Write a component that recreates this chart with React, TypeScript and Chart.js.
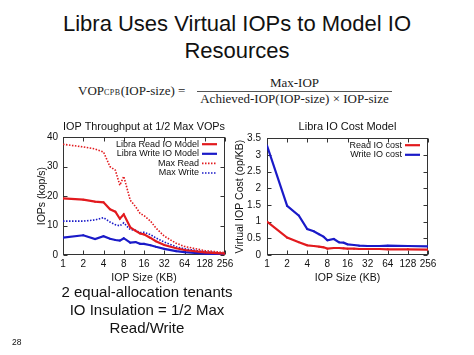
import React, { useEffect, useRef } from "react";
import { Chart, registerables } from "chart.js";

Chart.register(...registerables);

// ---------- data ----------
const ioSizes = [1, 2, 3, 4, 5, 6, 7, 8, 10, 12, 14, 16, 20, 24, 32, 48, 64, 128, 256];
const xTickValues = [1, 2, 4, 8, 16, 32, 64, 128, 256];

const libraRead = [19.2, 18.8, 18.1, 17.9, 15.5, 14.7, 12.3, 13.8, 9.4, 8.2, 7.3, 7.0, 5.8, 4.7, 3.4, 2.3, 1.7, 0.9, 0.45];
const libraWrite = [5.9, 6.7, 5.4, 6.4, 5.5, 5.1, 4.9, 5.7, 4.2, 4.4, 3.8, 3.8, 3.3, 2.8, 2.1, 1.3, 0.95, 0.45, 0.22];
const maxRead = [37.6, 36.7, 36.0, 35.0, 30.0, 28.8, 23.7, 26.7, 18.6, 16.4, 14.1, 13.4, 11.5, 9.2, 6.4, 4.0, 2.9, 1.5, 0.8];
const maxWrite = [11.5, 11.5, 11.9, 12.7, 11.2, 10.3, 9.9, 10.9, 8.6, 8.4, 7.6, 7.7, 6.9, 5.8, 4.4, 2.8, 2.1, 1.1, 0.55];

const readCost = [1.0, 0.52, 0.38, 0.29, 0.27, 0.25, 0.23, 0.19, 0.21, 0.21, 0.2, 0.19, 0.19, 0.18, 0.18, 0.18, 0.17, 0.17, 0.16];
const writeCost = [3.28, 1.47, 1.18, 0.78, 0.71, 0.62, 0.55, 0.44, 0.48, 0.38, 0.37, 0.32, 0.3, 0.28, 0.27, 0.27, 0.28, 0.27, 0.26];

const leftYMax = 40;
const leftYStep = 5;
const rightYMax = 3.5;
const rightYStep = 0.5;

const leftTitle = "IOP Throughput at 1/2 Max VOPs";
const rightTitle = "Libra IO Cost Model";
const xAxisTitle = "IOP Size (KB)";
const leftYTitle = "IOPs (kop/s)";
const rightYTitle = "Virtual IOP Cost (op/KB)";

// ---------- styles ----------
const RED = "rgb(226,26,30)";
const BLUE = "rgb(26,26,200)";
const FONT = "'Liberation Sans', Arial, Helvetica, sans-serif";
const SERIF = "'Liberation Serif', 'Times New Roman', serif";
const INK = "#111";

const pts = (vals: number[]) => ioSizes.map((s, i) => ({ x: s, y: vals[i] }));

const framePlugin = {
  id: "gpFrame",
  beforeDatasetsDraw(chart: any) {
    const { ctx, chartArea: a, scales } = chart;
    ctx.save();
    ctx.strokeStyle = "#333";
    ctx.lineWidth = 1;
    const L = Math.round(a.left) + 0.5;
    const R = Math.round(a.right) - 0.5;
    const T = Math.round(a.top) + 0.5;
    const B = Math.round(a.bottom) - 0.5;
    ctx.strokeRect(L, T, R - L, B - T);
    ctx.beginPath();
    for (const t of scales.x.ticks) {
      const px = Math.round(scales.x.getPixelForValue(t.value)) + 0.5;
      ctx.moveTo(px, B);
      ctx.lineTo(px, B - 4);
      ctx.moveTo(px, T);
      ctx.lineTo(px, T + 4);
    }
    for (const t of scales.y.ticks) {
      const py = Math.round(scales.y.getPixelForValue(t.value)) + 0.5;
      ctx.moveTo(L, py);
      ctx.lineTo(L + 4, py);
      ctx.moveTo(R, py);
      ctx.lineTo(R - 4, py);
    }
    ctx.stroke();
    ctx.restore();
  },
};

const legendPlugin = {
  id: "gpLegend",
  afterDraw(chart: any, _args: any, opts: any) {
    const { ctx, chartArea: a } = chart;
    ctx.save();
    ctx.font = `${opts.fontSize}px ${FONT}`;
    ctx.textAlign = "right";
    ctx.textBaseline = "middle";
    chart.data.datasets.forEach((ds: any, i: number) => {
      const y = a.top + opts.firstRow + i * opts.rowGap;
      ctx.fillStyle = INK;
      ctx.fillText(ds.label, a.right - opts.textGap, y);
      ctx.strokeStyle = ds.borderColor;
      ctx.lineWidth = ds.borderWidth;
      ctx.setLineDash(ds.borderDash || []);
      ctx.beginPath();
      ctx.moveTo(a.right - opts.lineStart, y);
      ctx.lineTo(a.right - opts.lineEnd, y);
      ctx.stroke();
    });
    ctx.restore();
  },
};

function makeConfig(opts: {
  datasets: any[];
  title: string;
  yTitle: string;
  yMax: number;
  yStep: number;
  yWidth: number;
  yTitlePad: number;
  yTickPad: number;
  rightPad: number;
  titlePad: { top: number; bottom: number };
}) {
  return {
    type: "line",
    data: { datasets: opts.datasets },
    plugins: [framePlugin, legendPlugin],
    options: {
      responsive: false,
      animation: false,
      devicePixelRatio: 1,
      layout: { padding: { left: 0, right: opts.rightPad, top: 0, bottom: 0 } },
      plugins: {
        legend: { display: false },
        tooltip: { enabled: false },
        title: {
          display: true,
          text: opts.title,
          color: INK,
          fullSize: false,
          font: { size: 11, family: FONT, weight: "normal", lineHeight: 1.2 },
          padding: opts.titlePad,
        },
        gpLegend: {
          fontSize: 9,
          firstRow: 7,
          rowGap: 9.6,
          textGap: 26,
          lineStart: 23,
          lineEnd: 8,
        },
      },
      scales: {
        x: {
          type: "logarithmic",
          min: 1,
          max: 256,
          grid: { display: false, drawTicks: false },
          border: { display: false },
          afterBuildTicks: (s: any) => {
            s.ticks = xTickValues.map((v) => ({ value: v }));
          },
          afterFit: (s: any) => {
            s.height = 30;
          },
          ticks: {
            color: INK,
            padding: 3,
            maxRotation: 0,
            autoSkip: false,
            font: { size: 10, family: FONT },
            callback: (v: any) => String(v),
          },
          title: {
            display: true,
            text: xAxisTitle,
            color: INK,
            font: { size: 10.5, family: FONT },
            padding: { top: 0, bottom: 1 },
          },
        },
        y: {
          type: "linear",
          min: 0,
          max: opts.yMax,
          grid: { display: false, drawTicks: false },
          border: { display: false },
          afterFit: (s: any) => {
            s.width = opts.yWidth;
          },
          ticks: {
            color: INK,
            stepSize: opts.yStep,
            padding: opts.yTickPad,
            font: { size: 10, family: FONT },
            callback: (v: any) => String(v),
          },
          title: {
            display: true,
            text: opts.yTitle,
            color: INK,
            font: { size: 10.5, family: FONT },
            padding: { top: opts.yTitlePad, bottom: 0 },
          },
        },
      },
    },
  } as any;
}

const lineDs = (label: string, vals: number[], color: string, dotted: boolean) => ({
  label,
  data: pts(vals),
  borderColor: color,
  backgroundColor: color,
  borderWidth: dotted ? 1.6 : 2.2,
  borderDash: dotted ? [1.5, 1.5] : [],
  pointRadius: dotted ? 0 : 1,
  pointBorderWidth: 0,
  tension: 0,
  fill: false,
});

function ChartBox(props: { left: number; top: number; width: number; height: number; make: () => any }) {
  const ref = useRef<HTMLCanvasElement>(null);
  useEffect(() => {
    const chart = new Chart(ref.current as HTMLCanvasElement, props.make());
    return () => chart.destroy();
  }, []);
  return (
    <canvas
      ref={ref}
      width={props.width}
      height={props.height}
      style={{
        position: "absolute",
        left: props.left,
        top: props.top,
        width: props.width,
        height: props.height,
      }}
    />
  );
}

export default function App() {
  useEffect(() => {
    Chart.defaults.font.family = FONT;
  }, []);

  const leftMake = () =>
    makeConfig({
      datasets: [
        lineDs("Libra Read IO Model", libraRead, RED, false),
        lineDs("Libra Write IO Model", libraWrite, BLUE, false),
        lineDs("Max Read", maxRead, RED, true),
        lineDs("Max Write", maxWrite, BLUE, true),
      ],
      title: leftTitle,
      yTitle: leftYTitle,
      yMax: leftYMax,
      yStep: leftYStep,
      yWidth: 63,
      yTitlePad: 36,
      yTickPad: 5,
      rightPad: 15,
      titlePad: { top: 5, bottom: 4 },
    });

  const rightMake = () =>
    makeConfig({
      datasets: [
        lineDs("Read IO cost", readCost, RED, false),
        lineDs("Write IO cost", writeCost, BLUE, false),
      ],
      title: rightTitle,
      yTitle: rightYTitle,
      yMax: rightYMax,
      yStep: rightYStep,
      yWidth: 39,
      yTitlePad: 5.5,
      yTickPad: 6,
      rightPad: 46,
      titlePad: { top: 5, bottom: 5 },
    });

  return (
    <div
      style={{
        position: "absolute",
        left: 0,
        top: 0,
        width: 474,
        height: 355,
        background: "#fff",
        overflow: "hidden",
        fontFamily: FONT,
        color: INK,
      }}
    >
      <div
        style={{
          position: "absolute",
          left: 0,
          top: 10,
          width: 474,
          textAlign: "center",
          fontSize: 22,
          lineHeight: "27px",
        }}
      >
        Libra Uses Virtual IOPs to Model IO
        <br />
        Resources
      </div>

      {/* formula */}
      <div
        style={{
          position: "absolute",
          left: 78,
          top: 84,
          fontFamily: SERIF,
          fontSize: 13,
          lineHeight: "14px",
          whiteSpace: "nowrap",
          color: "#1a1a1a",
        }}
      >
        VOP<span style={{ fontSize: 8, letterSpacing: 0.5 }}>CPB</span>(IOP-size) =
      </div>
      <div
        style={{
          position: "absolute",
          left: 197,
          top: 76,
          width: 195,
          textAlign: "center",
          fontFamily: SERIF,
          fontSize: 13,
          lineHeight: "14px",
          whiteSpace: "nowrap",
          color: "#1a1a1a",
        }}
      >
        Max-IOP
      </div>
      <div
        style={{
          position: "absolute",
          left: 197,
          top: 91,
          width: 195,
          height: 1,
          background: "#555",
        }}
      />
      <div
        style={{
          position: "absolute",
          left: 197,
          top: 92,
          width: 195,
          textAlign: "center",
          fontFamily: SERIF,
          fontSize: 13,
          lineHeight: "14px",
          whiteSpace: "nowrap",
          color: "#1a1a1a",
        }}
      >
        Achieved-IOP(IOP-size) × IOP-size
      </div>

      <ChartBox left={0} top={115} width={240} height={170} make={leftMake} />
      <ChartBox left={228} top={115} width={246} height={170} make={rightMake} />

      <div
        style={{
          position: "absolute",
          left: 0,
          top: 283,
          width: 294,
          textAlign: "center",
          fontSize: 15,
          lineHeight: "18px",
        }}
      >
        2 equal-allocation tenants
        <br />
        IO Insulation = 1/2 Max
        <br />
        Read/Write
      </div>

      <div
        style={{
          position: "absolute",
          left: 12,
          top: 337,
          fontSize: 8.5,
          lineHeight: "10px",
        }}
      >
        28
      </div>
    </div>
  );
}
